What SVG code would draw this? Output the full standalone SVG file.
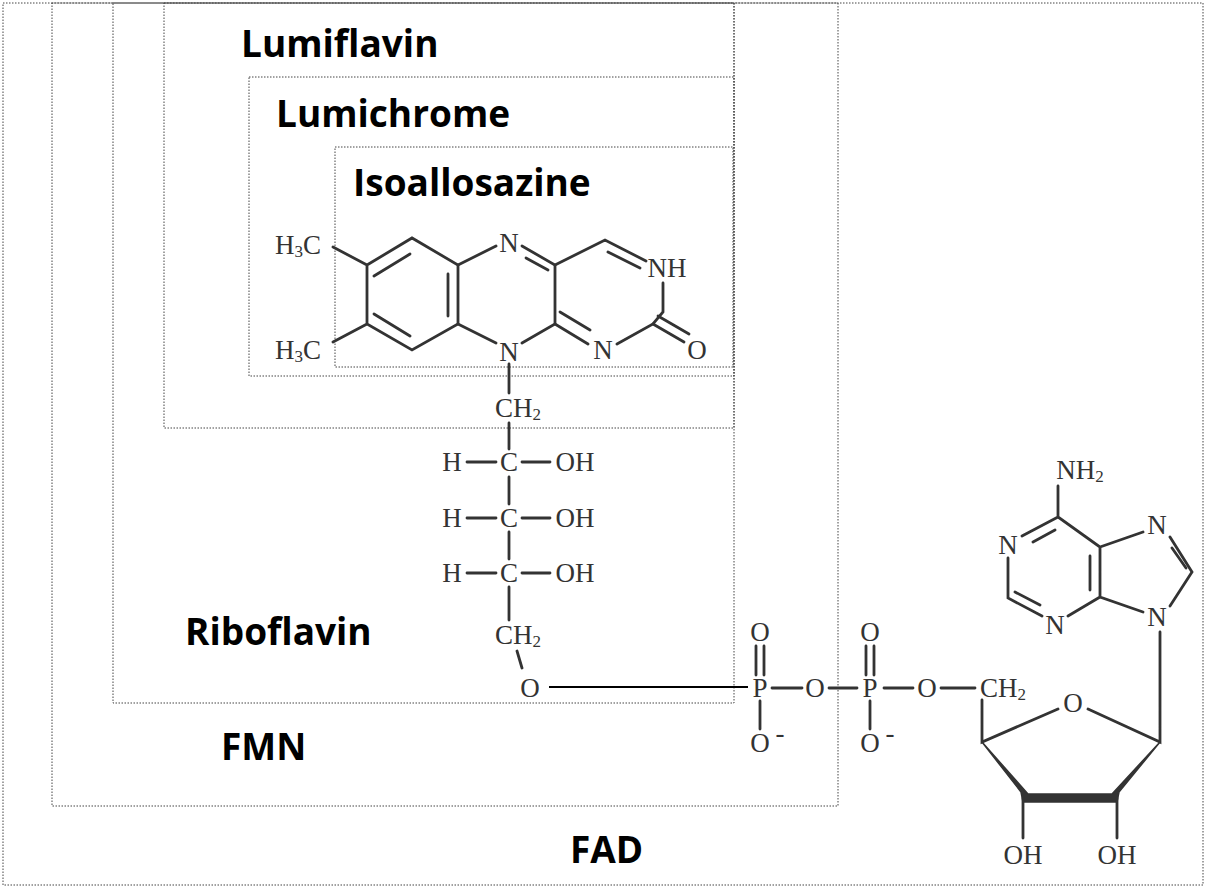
<svg xmlns="http://www.w3.org/2000/svg" width="1206" height="888" viewBox="0 0 1206 888">
<style>
.box{fill:none;stroke:#444;stroke-width:1;stroke-dasharray:1.5 1.5}
.lbl{font-family:"Open Sans","Noto Sans",sans-serif;font-weight:bold;font-size:37px;fill:#000}
.at{font-family:"Liberation Serif",serif;font-size:27px;fill:#333;text-anchor:middle;dominant-baseline:central}
.sub{font-size:17px}
.b{stroke:#333;stroke-width:2.8;fill:none;stroke-linecap:round}
</style>
<rect width="1206" height="888" fill="#fff"/>
<g id="boxes">
<rect id="FAD" class="box" x="3" y="3" width="1200" height="882"/>
<rect id="FMN" class="box" x="52" y="3" width="786" height="803"/>
<rect id="Riboflavin" class="box" x="113" y="3" width="621" height="700"/>
<rect id="Lumiflavin" class="box" x="164" y="3" width="570" height="425"/>
<rect id="Lumichrome" class="box" x="249" y="77" width="485" height="299"/>
<rect id="Isoalloxazine" class="box" x="335" y="147" width="398" height="220"/>
</g>
<g id="labels">
<text class="lbl" x="241" y="57">Lumiflavin</text>
<text class="lbl" x="276" y="127">Lumichrome</text>
<text class="lbl" x="353" y="196">Isoallosazine</text>
<text class="lbl" x="185" y="645">Riboflavin</text>
<text class="lbl" x="221" y="760">FMN</text>
<text class="lbl" x="570" y="863">FAD</text>
</g>
<g id="connectors">
<path class="b" d="M367,265 L412,238 L458,265 L458,324 L412,350 L367,324 Z M333,247 L367,265 M367,324 L333,342"/>
<path class="b" d="M374,276 L410,254 M374,314 L410,336 M448,274 L448,316"/>
<path class="b" d="M458,265 L496,246 M522,246 L555,265 L555,324 L522,343 M496,343 L458,324"/>
<path class="b" d="M526,258 L548,270"/>
<path class="b" d="M555,265 L605,240 L646,261 M663,283 L663,312 L653,324 L617,344 M555,324 L588,344"/>
<path class="b" d="M608,252 L640,268 M560,312 L590,330"/>
<path class="b" d="M653,324 L684,342 M658,316 L689,334"/>
<path class="b" d="M509,364 L509,393 M509,423 L509,449 M509,477 L509,504 M509,532 L509,559 M509,587 L509,620 M517,651 L522,668"/>
<path class="b" d="M467,462 L496,462 M522,462 L550,462 M467,518 L496,518 M522,518 L550,518 M467,573 L496,573 M522,573 L550,573"/>
<path d="M549,687 L748,687" stroke="#000" stroke-width="2.2"/>
<path class="b" d="M772,688 L802,688 M829,688 L857,688 M884,688 L913,688 M941,688 L975,688"/>
<path class="b" d="M756,646 L756,675 M764,646 L764,675 M866,646 L866,675 M874,646 L874,675 M760,701 L760,729 M870,701 L870,729"/>
<path class="b" d="M982,700 L982,742 L1058,709 M1088,709 L1160,742 L1160,632"/>
<path d="M982,742 L1021,792 L1023,802 L1117,802 L1119,792 L1160,742 L1112,794 L1028,794 Z" fill="#333" stroke="#333" stroke-width="1.5" stroke-linejoin="round"/>
<path class="b" d="M1023,798 L1023,838 M1117,798 L1117,838"/>
<path class="b" d="M1058,486 L1058,517 L1100,547 L1100,597 L1143,612 M1058,517 L1022,536 M1008,558 L1008,598 L1042,616 M1068,616 L1100,597 M1100,547 L1143,532 M1170,537 L1192,572 L1170,606"/>
<path class="b" d="M1033,542 L1055,530 M1090,556 L1090,590 M1015,592 L1040,605 M1172,548 L1186,568"/>
</g>
<g id="atoms">
<text class="at" x="298" y="245">H<tspan class="sub" dy="6">3</tspan><tspan dy="-6">C</tspan></text>
<text class="at" x="298" y="350">H<tspan class="sub" dy="6">3</tspan><tspan dy="-6">C</tspan></text>
<text class="at" x="509" y="243">N</text>
<text class="at" x="509" y="352">N</text>
<text class="at" x="667" y="268">NH</text>
<text class="at" x="603" y="350">N</text>
<text class="at" x="697" y="350">O</text>
<text class="at" x="518" y="408">CH<tspan class="sub" dy="6">2</tspan></text>
<text class="at" x="452" y="462">H</text><text class="at" x="509" y="462">C</text><text class="at" x="575" y="462">OH</text>
<text class="at" x="452" y="518">H</text><text class="at" x="509" y="518">C</text><text class="at" x="575" y="518">OH</text>
<text class="at" x="452" y="573">H</text><text class="at" x="509" y="573">C</text><text class="at" x="575" y="573">OH</text>
<text class="at" x="518" y="635">CH<tspan class="sub" dy="6">2</tspan></text>
<text class="at" x="530" y="688">O</text>
<text class="at" x="760" y="688">P</text>
<text class="at" x="760" y="632">O</text>
<text class="at" x="760" y="743">O</text><text class="at" x="780" y="733" font-size="22">-</text>
<text class="at" x="815" y="688">O</text>
<text class="at" x="870" y="688">P</text>
<text class="at" x="870" y="632">O</text>
<text class="at" x="870" y="743">O</text><text class="at" x="890" y="733" font-size="22">-</text>
<text class="at" x="927" y="688">O</text>
<text class="at" x="1003" y="688">CH<tspan class="sub" dy="6">2</tspan></text>
<text class="at" x="1073" y="703">O</text>
<text class="at" x="1023" y="855">OH</text>
<text class="at" x="1117" y="855">OH</text>
<text class="at" x="1157" y="617">N</text>
<text class="at" x="1157" y="525">N</text>
<text class="at" x="1008" y="545">N</text>
<text class="at" x="1055" y="625">N</text>
<text class="at" x="1080" y="470">NH<tspan class="sub" dy="6">2</tspan></text>
</g>
</svg>
